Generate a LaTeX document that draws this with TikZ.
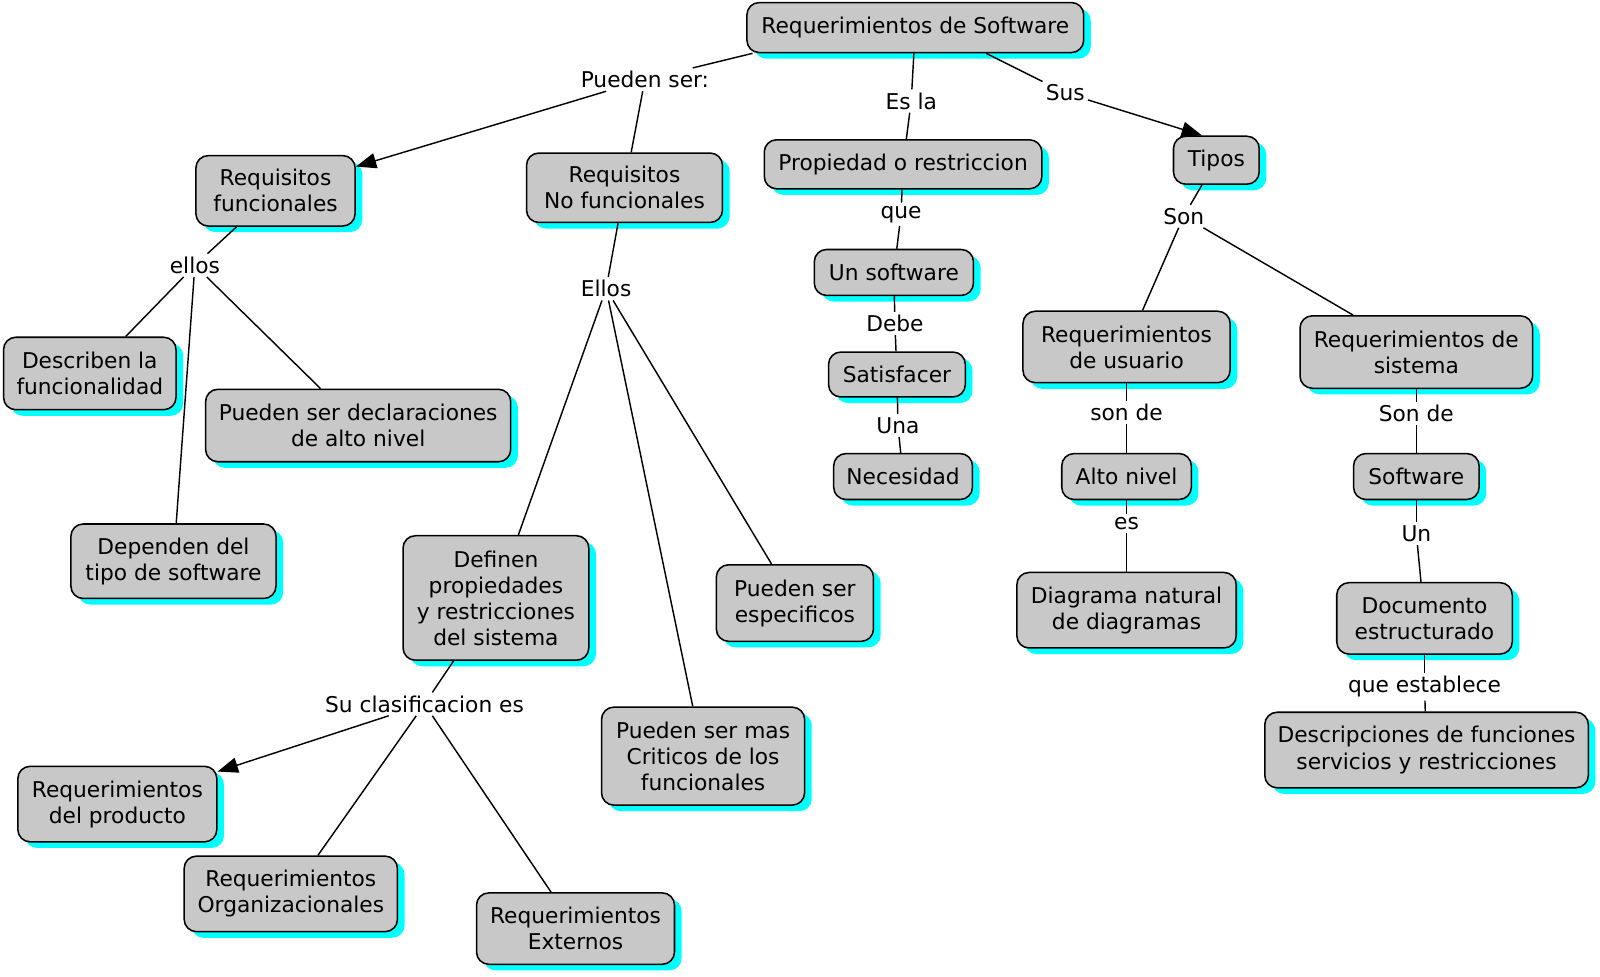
\documentclass[tikz,border=0pt]{standalone}
\usepackage{fontspec}
\setmainfont{DejaVu Sans}
\usetikzlibrary{shadows,arrows.meta}
\definecolor{boxgray}{RGB}{200,200,200}
\definecolor{shadowcyan}{RGB}{0,255,255}
\begin{document}
\begin{tikzpicture}[x=1pt,y=-1pt,
  concept/.style={draw=black, line width=1.5pt, fill=boxgray, rounded corners=12pt,
    align=center, inner sep=2pt, font=\fontsize{21.3}{25.5}\selectfont,
    drop shadow={shadow xshift=7pt, shadow yshift=-6pt, fill=shadowcyan, opacity=1}},
  phrase/.style={inner sep=3pt, font=\fontsize{21.3}{25.5}\selectfont},
  link/.style={line width=1.4pt},
  arr/.style={link, -{Triangle[length=20pt,width=15pt]}}]
\useasboundingbox[fill=white] (0,0) rectangle (1568,956.5);

% concepts
\node[concept, minimum width=330, minimum height=49] (root) at (897,27) {Requerimientos de Software};
\node[concept, minimum width=156, minimum height=69] (rf) at (270,187) {Requisitos\\funcionales};
\node[concept, minimum width=192, minimum height=68] (rnf) at (612,184) {Requisitos\\No funcionales};
\node[concept, minimum width=272, minimum height=48] (prop) at (885,161) {Propiedad o restriccion};
\node[concept, minimum width=84, minimum height=47] (tipos) at (1192,157) {Tipos};
\node[concept, minimum width=156, minimum height=45] (unsw) at (876,267) {Un software};
\node[concept, minimum width=134, minimum height=44] (satis) at (879,367) {Satisfacer};
\node[concept, minimum width=136, minimum height=45] (neces) at (885,467) {Necesidad};
\node[concept, minimum width=203, minimum height=70] (rusu) at (1104,340) {Requerimientos\\de usuario};
\node[concept, minimum width=228, minimum height=71] (rsis) at (1388,345) {Requerimientos de\\sistema};
\node[concept, minimum width=127, minimum height=45] (alto) at (1104,467) {Alto nivel};
\node[concept, minimum width=123, minimum height=45] (soft) at (1388,467) {Software};
\node[concept, minimum width=215, minimum height=74] (diag) at (1104,598) {Diagrama natural\\de diagramas};
\node[concept, minimum width=172, minimum height=70] (doc) at (1396,606) {Documento\\estructurado};
\node[concept, minimum width=317, minimum height=74] (desc) at (1398,735) {Descripciones de funciones\\servicios y restricciones};
\node[concept, minimum width=169, minimum height=71] (descr) at (88,366) {Describen la\\funcionalidad};
\node[concept, minimum width=299, minimum height=71] (decl) at (351,417) {Pueden ser declaraciones\\de alto nivel};
\node[concept, minimum width=201, minimum height=73] (dep) at (170,550) {Dependen del\\tipo de software};
\node[concept, minimum width=182, minimum height=122] (def) at (486,586) {Definen\\propiedades\\y restricciones\\del sistema};
\node[concept, minimum width=154, minimum height=75] (esp) at (779,591) {Pueden ser\\especificos};
\node[concept, minimum width=199, minimum height=96] (mas) at (689,741) {Pueden ser mas\\Criticos de los\\funcionales};
\node[concept, minimum width=195, minimum height=74] (prod) at (115,788) {Requerimientos\\del producto};
\node[concept, minimum width=209, minimum height=74] (org) at (285,876) {Requerimientos\\Organizacionales};
\node[concept, minimum width=194, minimum height=70] (ext) at (564,910) {Requerimientos\\Externos};

% linking phrases
\node[phrase] (pueden) at (632,78) {Pueden ser:};
\node[phrase] (esla) at (893,99) {Es la};
\node[phrase] (sus) at (1044,91) {Sus};
\node[phrase] (que) at (883,210) {que};
\node[phrase] (son) at (1160,212) {Son};
\node[phrase] (debe) at (877,317) {Debe};
\node[phrase] (una) at (880,417) {Una};
\node[phrase] (sonde) at (1104,404) {son de};
\node[phrase] (Sonde) at (1388,405) {Son de};
\node[phrase] (es) at (1104,513) {es};
\node[phrase] (un) at (1388,523) {Un};
\node[phrase] (queest) at (1396,673) {que establece};
\node[phrase] (ellos) at (191,260) {ellos};
\node[phrase] (Ellos) at (594,283) {Ellos};
\node[phrase] (sucl) at (416,690) {Su clasificacion es};

% connectors
\draw[link] (root.189) -- (pueden);
\draw[arr] (pueden) -- (rf);
\draw[link] (pueden) -- (rnf);
\draw[link] (root) -- (esla);
\draw[link] (esla) -- (prop);
\draw[link] (root.340) -- (sus);
\draw[arr] (sus) -- (tipos.120);
\draw[link] (prop) -- (que);
\draw[link] (que) -- (unsw);
\draw[link] (unsw) -- (debe);
\draw[link] (debe) -- (satis);
\draw[link] (satis) -- (una);
\draw[link] (una) -- (neces);
\draw[link] (tipos) -- (son);
\draw[link] (son) -- (rusu);
\draw[link] (son) -- (rsis);
\draw[link] (rusu) -- (sonde);
\draw[link] (sonde) -- (alto);
\draw[link] (rsis) -- (Sonde);
\draw[link] (Sonde) -- (soft);
\draw[link] (alto) -- (es);
\draw[link] (es) -- (diag);
\draw[link] (soft) -- (un);
\draw[link] (un) -- (doc);
\draw[link] (doc) -- (queest);
\draw[link] (queest) -- (desc);
\draw[link] (rf) -- (ellos);
\draw[link] (ellos) -- (descr);
\draw[link] (ellos) -- (dep);
\draw[link] (ellos) -- (decl);
\draw[link] (rnf) -- (Ellos);
\draw[link] (Ellos) -- (def);
\draw[link] (Ellos) -- (mas);
\draw[link] (Ellos) -- (esp);
\draw[link] (def) -- (sucl);
\draw[arr] (sucl) -- (prod);
\draw[link] (sucl) -- (org);
\draw[link] (sucl) -- (ext);
\end{tikzpicture}
\end{document}
